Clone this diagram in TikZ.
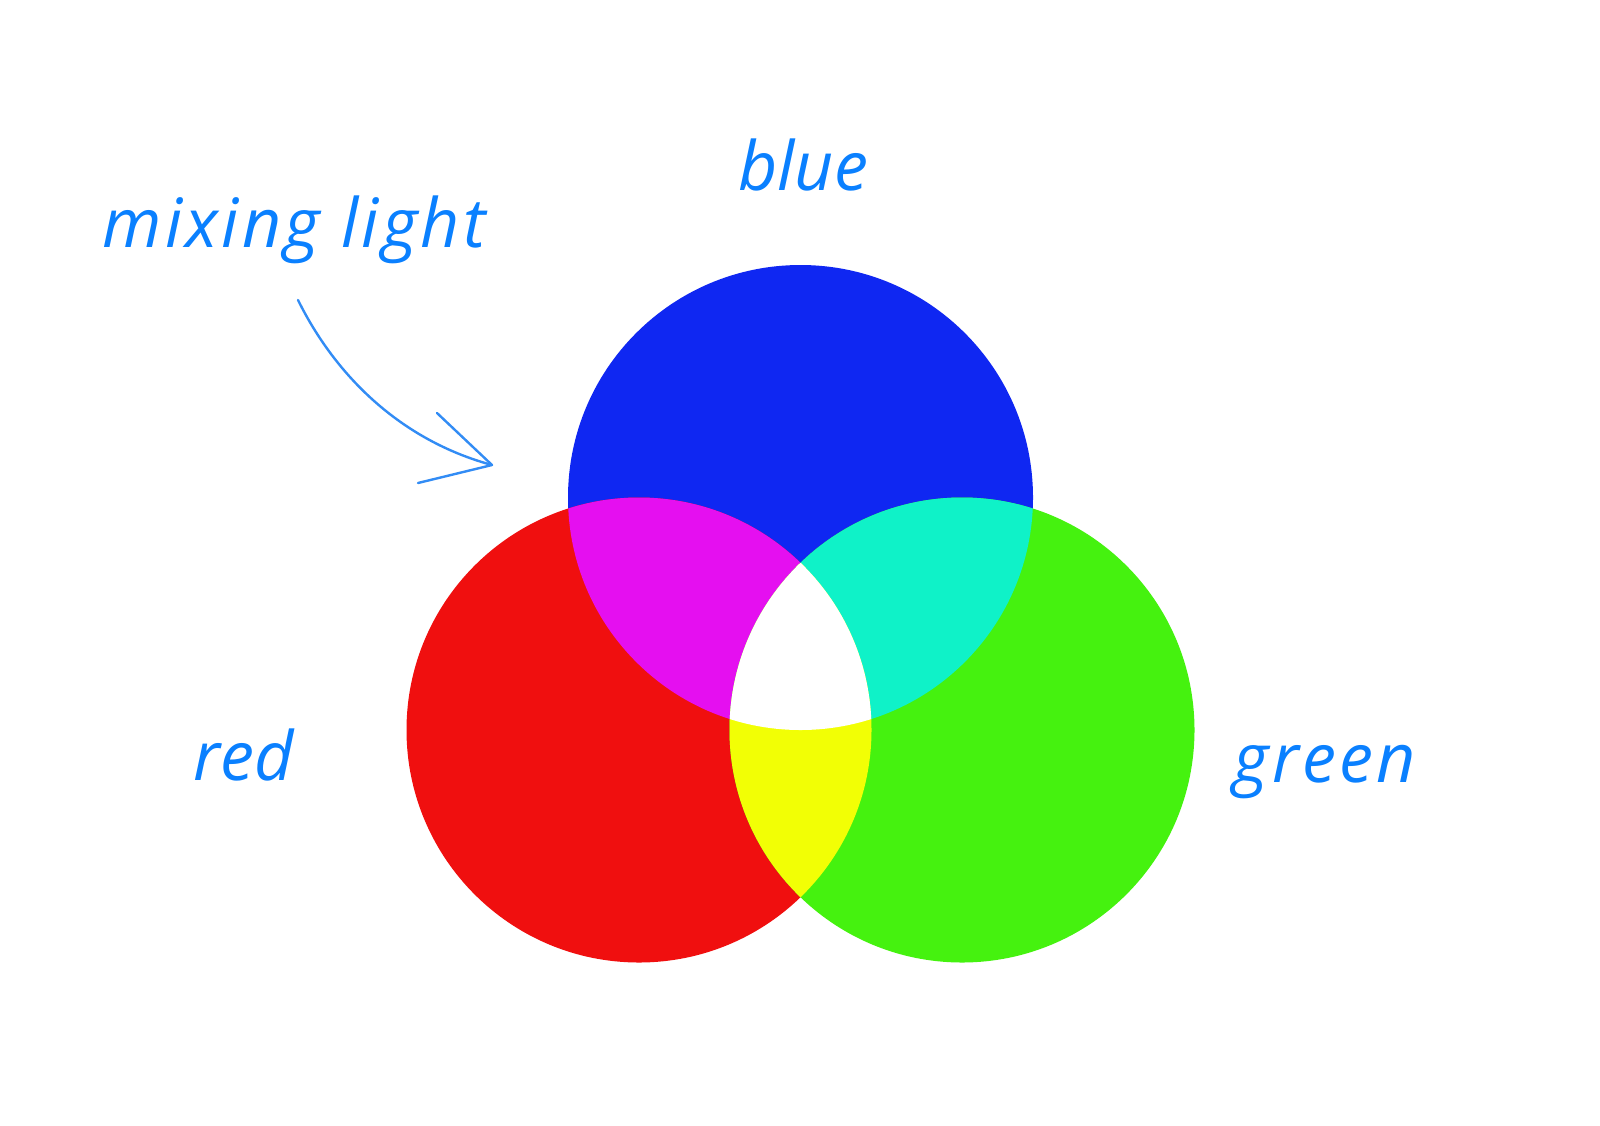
\documentclass[tikz,border=0pt]{standalone}
\usepackage{fontspec}
\setmainfont{Open Sans}
\definecolor{cblue}{RGB}{15,39,242}
\definecolor{cred}{RGB}{240,15,15}
\definecolor{cgreen}{RGB}{69,242,15}
\definecolor{cmag}{RGB}{229,15,240}
\definecolor{ccyan}{RGB}{15,242,200}
\definecolor{cyel}{RGB}{242,255,5}
\definecolor{txtblue}{RGB}{10,128,255}
\definecolor{arrblue}{RGB}{50,140,245}
\begin{document}
\begin{tikzpicture}[x=0.5pt,y=-0.5pt,
  lbl/.style={font=\itshape\fontsize{34}{40}\selectfont, text=txtblue, inner sep=0pt, anchor=base west},
  wide/.style={font=\itshape\fontsize{34}{40}\selectfont\addfontfeature{LetterSpace=5}},
  arr/.style={draw=arrblue, line width=1.2pt, line cap=round}]
\fill[white] (0,0) rectangle (1600,1125);
\useasboundingbox (0,0) rectangle (1600,1125);
\def\rad{116.25pt}
\coordinate (cB) at (800.5,497.5);
\coordinate (cR) at (639,730);
\coordinate (cG) at (962,730);
% base circles
\fill[cblue] (cB) circle[radius=\rad];
\fill[cred] (cR) circle[radius=\rad];
\fill[cgreen] (cG) circle[radius=\rad];
% pairwise overlaps
\begin{scope}
  \clip (cR) circle[radius=\rad];
  \fill[cmag] (cB) circle[radius=\rad];
\end{scope}
\begin{scope}
  \clip (cG) circle[radius=\rad];
  \fill[ccyan] (cB) circle[radius=\rad];
\end{scope}
\begin{scope}
  \clip (cR) circle[radius=\rad];
  \fill[cyel] (cG) circle[radius=\rad];
\end{scope}
\begin{scope}
  \clip (cR) circle[radius=\rad];
  \clip (cG) circle[radius=\rad];
  \fill[white] (cB) circle[radius=\rad];
\end{scope}
% labels
\node[lbl, wide] (tmix) at (102,247) {mixing light};
\node[lbl] (tblue) at (738,190) {blue};
\node[lbl] (tred) at (193,780) {red};
\node[lbl, wide] (tgreen) at (1233,782) {green};
% arrow
\coordinate (a0) at (298,300);
\coordinate (tip) at (492,465);
\coordinate (b1) at (437,413);
\coordinate (b2) at (418,483);
\draw[arr] (a0) .. controls (335,375) and (400,440) .. (tip);
\draw[arr] (b1) -- (tip);
\draw[arr] (b2) -- (tip);
\end{tikzpicture}
\end{document}
